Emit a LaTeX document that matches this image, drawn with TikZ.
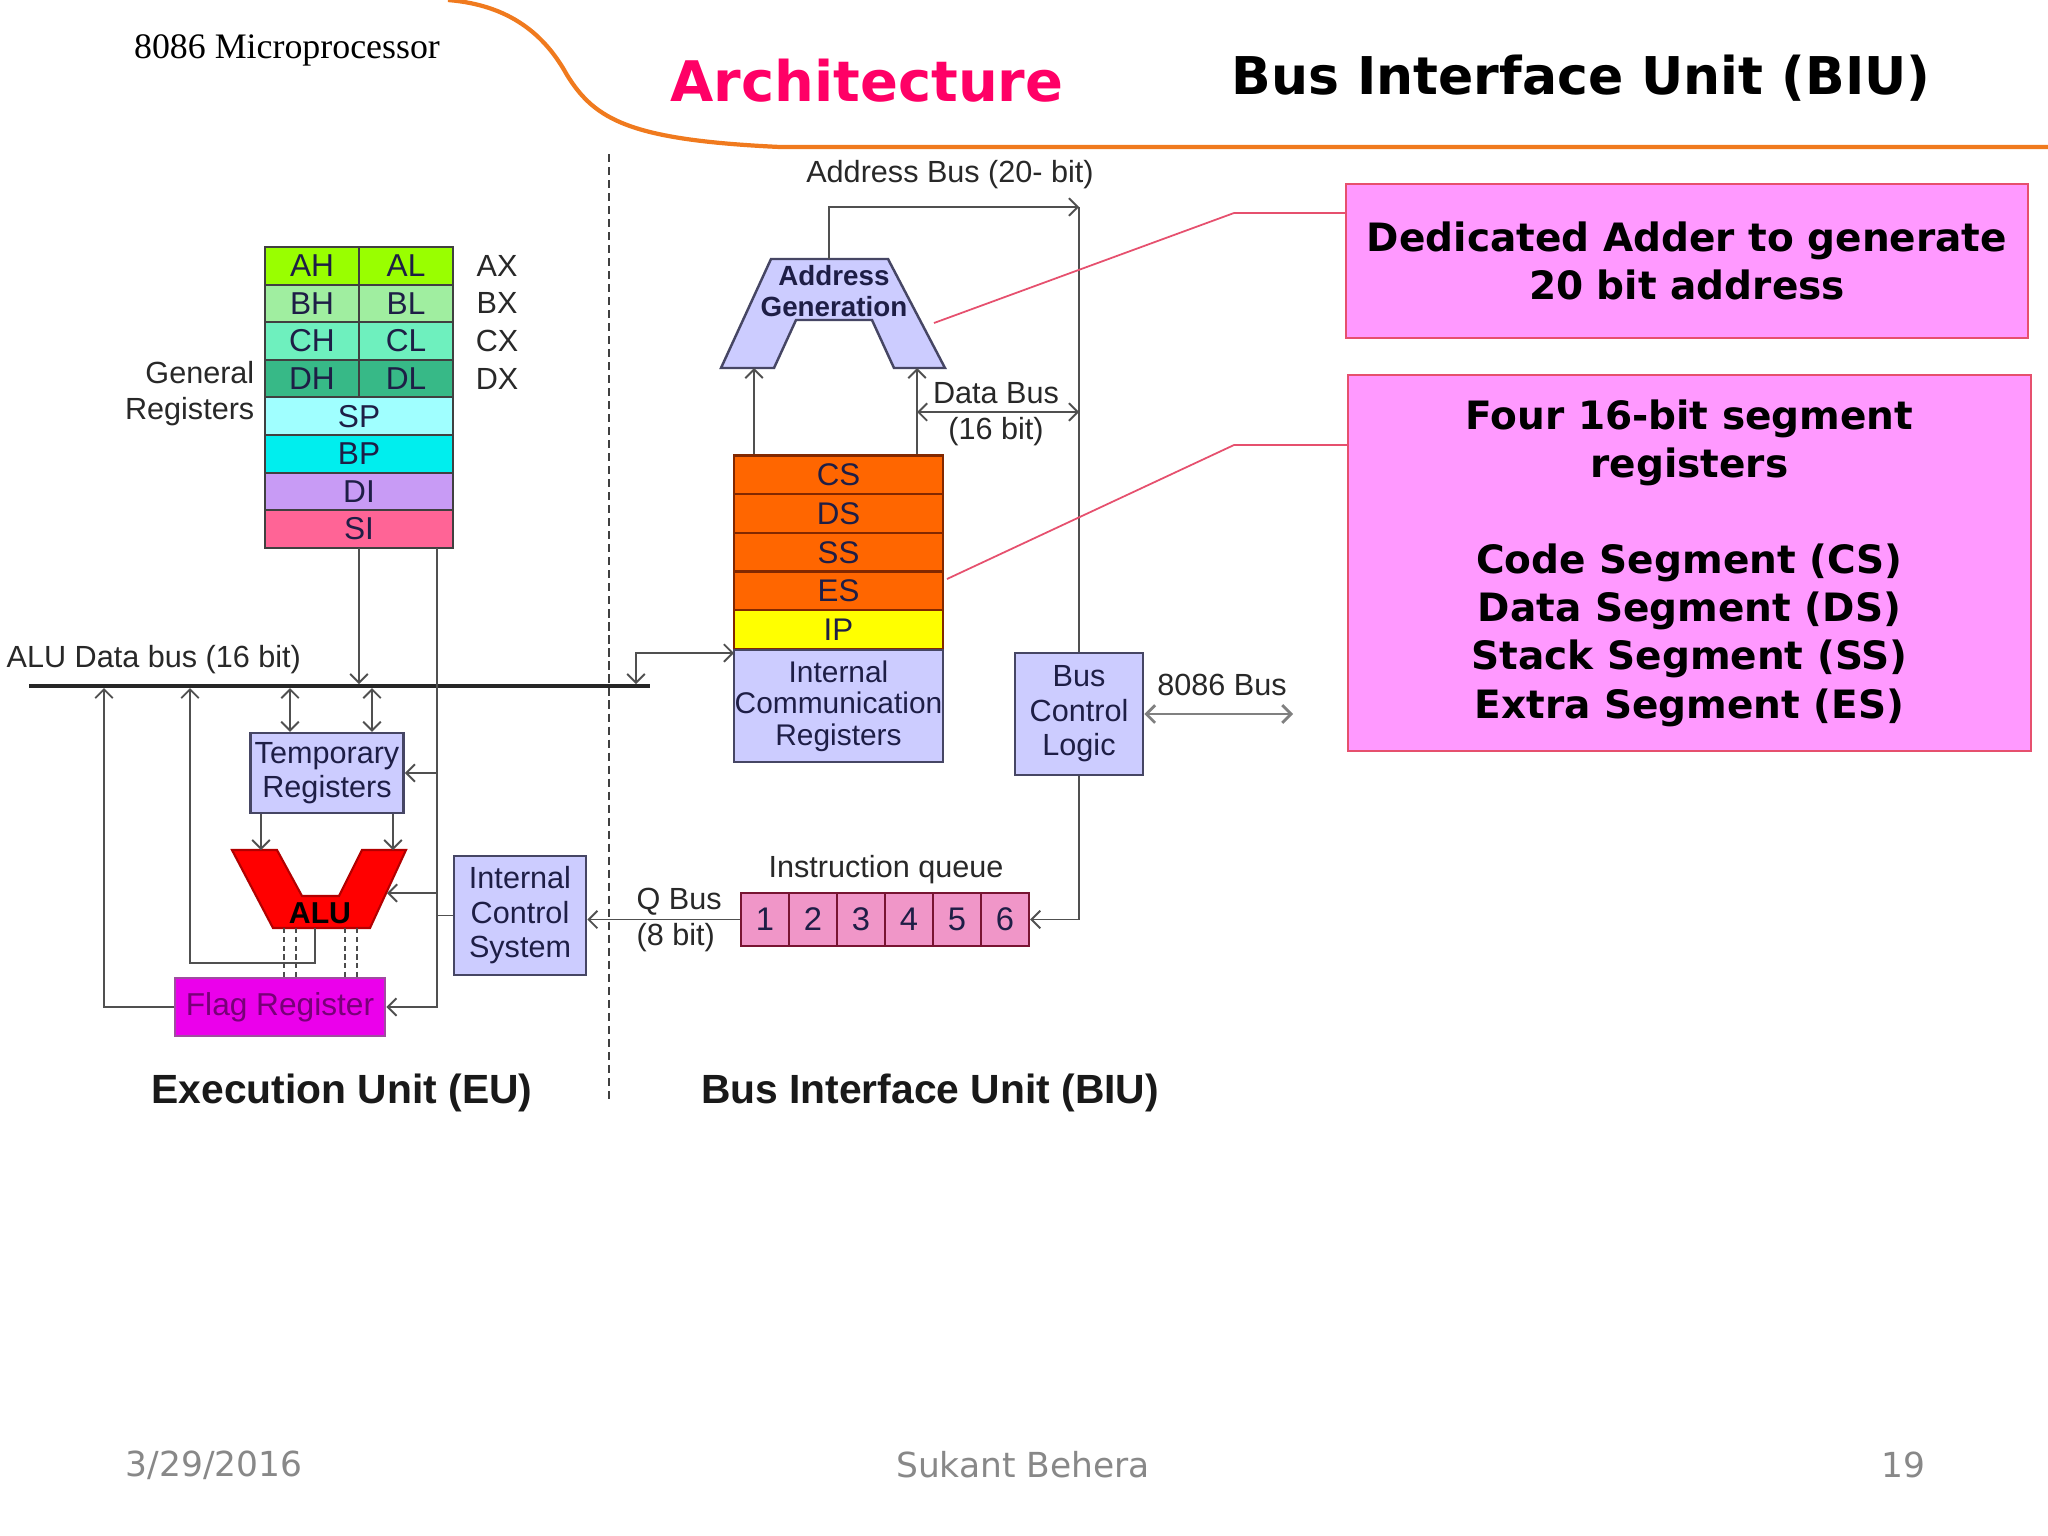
\documentclass[tikz,border=0pt]{standalone}
\usepackage{fontspec}
\setmainfont{Liberation Sans}
\newfontfamily\dv{DejaVu Sans}
\newfontfamily\lser{Liberation Serif}
\usetikzlibrary{arrows.meta}
\definecolor{orng}{RGB}{240,122,30}
\definecolor{archred}{RGB}{255,0,102}
\definecolor{lav}{RGB}{204,204,255}
\definecolor{lavbd}{RGB}{70,70,100}
\definecolor{segor}{RGB}{255,102,0}
\definecolor{segbd}{RGB}{130,40,0}
\definecolor{ipy}{RGB}{255,255,0}
\definecolor{callout}{RGB}{255,153,255}
\definecolor{callred}{RGB}{230,80,110}
\definecolor{qpink}{RGB}{240,150,200}
\definecolor{qbd}{RGB}{120,20,50}
\definecolor{flagm}{RGB}{235,0,235}
\definecolor{flagt}{RGB}{120,0,120}
\definecolor{wirec}{RGB}{80,80,80}
\definecolor{txt}{RGB}{40,40,40}
\definecolor{boxtxt}{RGB}{30,30,70}
\definecolor{regA}{RGB}{153,255,0}
\definecolor{regB}{RGB}{160,238,160}
\definecolor{regC}{RGB}{110,240,190}
\definecolor{regD}{RGB}{55,185,135}
\definecolor{regSP}{RGB}{160,255,255}
\definecolor{regBP}{RGB}{0,238,238}
\definecolor{regDI}{RGB}{200,155,245}
\definecolor{regSI}{RGB}{255,100,150}
\definecolor{foot}{RGB}{136,136,136}
\begin{document}
\begin{tikzpicture}[x=0.01cm,y=-0.01cm,
  lbl/.style={font=\fontsize{8.7}{10.2}\selectfont, text=txt, align=center, inner sep=0pt},
  regcell/.style={draw=black!75, line width=0.6pt, inner sep=0pt, font=\fontsize{9}{9.5}\selectfont, text=boxtxt, minimum height=0.376cm},
  half/.style={regcell, minimum width=0.94cm},
  full/.style={regcell, minimum width=1.88cm},
  lavbox/.style={draw=lavbd, fill=lav, line width=0.7pt, inner sep=0pt, align=center, text=boxtxt, font=\fontsize{8.7}{9.8}\selectfont},
  segcell/.style={draw=segbd, fill=segor, line width=0.7pt, inner sep=0pt, minimum width=2.09cm, minimum height=0.387cm, text=boxtxt, font=\fontsize{8.9}{9.8}\selectfont},
  qcell/.style={draw=qbd, fill=qpink, line width=0.6pt, inner sep=0pt, minimum width=0.48cm, minimum height=0.53cm, text=boxtxt, font=\fontsize{9.3}{10}\selectfont},
  wire/.style={draw=wirec, line width=0.55pt},
  tip/.style={-{Straight Barb[length=2.5pt,width=5pt]}},
  tips/.style={{Straight Barb[length=2.5pt,width=5pt]}-{Straight Barb[length=2.5pt,width=5pt]}},
  callbox/.style={draw=callred, fill=callout, line width=0.5pt, inner sep=0pt, align=center, font=\dv\bfseries\fontsize{11.1}{13.7}\selectfont},
  dotw/.style={draw=black!70, line width=0.45pt, dash pattern=on 1.5pt off 1pt}
]
\useasboundingbox (0,0) rectangle (2048,1536);
\fill[white] (0,0) rectangle (2048,1536);

% header
\draw[orng, line width=1.2pt] (448,0) .. controls (510,5) and (545,35) .. (567,75) .. controls (595,120) and (630,140) .. (780,147) -- (2048,147);
\node[inner sep=0pt, font=\lser\fontsize{10.2}{12}\selectfont] (hdr) at (287,50) {8086 Microprocessor};
\node[inner sep=0pt, text=archred, font=\dv\bfseries\fontsize{15.9}{18}\selectfont] (arch) at (867,81) {Architecture};
\node[inner sep=0pt, font=\dv\bfseries\fontsize{14.8}{17}\selectfont] (ttl) at (1581,78) {Bus Interface Unit (BIU)};

% divider
\draw[black!75, line width=0.6pt, dash pattern=on 2.3pt off 1.4pt] (609,154) -- (609,1103);

% general registers
\node[half, fill=regA] (AH) at (312,265.8) {AH};
\node[half, fill=regA] (AL) at (406,265.8) {AL};
\node[half, fill=regB] (BH) at (312,303.4) {BH};
\node[half, fill=regB] (BL) at (406,303.4) {BL};
\node[half, fill=regC] (CH) at (312,341) {CH};
\node[half, fill=regC] (CL) at (406,341) {CL};
\node[half, fill=regD] (DH) at (312,378.6) {DH};
\node[half, fill=regD] (DL) at (406,378.6) {DL};
\node[full, fill=regSP] (SP) at (359,416.2) {SP};
\node[full, fill=regBP] (BP) at (359,453.8) {BP};
\node[full, fill=regDI] (DI) at (359,491.4) {DI};
\node[full, fill=regSI] (SI) at (359,529) {SI};
\node[lbl] (AX) at (497,265.8) {AX};
\node[lbl] (BX) at (497,303.4) {BX};
\node[lbl] (CX) at (497,341) {CX};
\node[lbl] (DX) at (497,378.6) {DX};
\node[lbl, anchor=east, align=right] (genreg) at (255,394) {General\\Registers};

% ALU data bus
\coordinate (busL) at (29,686);
\coordinate (busR) at (650,686);
\draw[black!85, line width=1.2pt] (busL) -- (busR);
\node[lbl, anchor=west] (aluBusLbl) at (6,660) {ALU Data bus (16 bit)};

% EU blocks
\node[lavbox, minimum width=1.53cm, minimum height=0.80cm] (tmp) at (327,773) {Temporary\\Registers};
\node[lavbox, minimum width=1.32cm, minimum height=1.19cm, font=\fontsize{8.7}{9.8}\selectfont] (ics) at (520,915.5) {Internal\\Control\\System};
\node[draw=flagt!70, fill=flagm, line width=0.7pt, inner sep=0pt, minimum width=2.10cm, minimum height=0.58cm, text=flagt, font=\fontsize{9}{9.8}\selectfont] (flag) at (280,1007) {Flag Register};
\draw[draw=red!70!black, fill=red, line width=0.6pt] (232,850) -- (277,850) -- (302,896) -- (339,896) -- (362,850) -- (406,850) -- (370,928) -- (273,928) -- cycle;
\node[inner sep=0pt, font=\bfseries\fontsize{8.6}{9}\selectfont] (alu) at (320,913) {ALU};
\coordinate (aluR) at (387,893);
\coordinate (aluOut) at (315,928);

% EU wires
\coordinate (regOut) at (359,548);
\coordinate (ctrlTop) at (437,548);
\draw[wire, tip] (regOut) -- (359,684);
\draw[wire, tip] (ctrlTop) |- (flag.east);
\draw[wire, tip] (ctrlTop |- tmp.east) -- (tmp.east);
\draw[wire, tip] (ctrlTop |- aluR) -- (aluR);
\draw[wire] (ics.west) -- (ctrlTop |- ics.west);
\draw[wire, tip] (flag.west) -| (104,688);
\draw[wire, tip] (aluOut) |- (190,963) -- (190,688);
\draw[wire, tips] (290,688) -- (290,0 |- tmp.north);
\draw[wire, tips] (372,688) -- (372,0 |- tmp.north);
\draw[wire, tip] (261,0 |- tmp.south) -- (261,850);
\draw[wire, tip] (393,0 |- tmp.south) -- (393,850);
\draw[dotw] (284,928) -- (284,0 |- flag.north);
\draw[dotw] (296,928) -- (296,0 |- flag.north);
\draw[dotw] (345,928) -- (345,0 |- flag.north);
\draw[dotw] (357,928) -- (357,0 |- flag.north);

% BIU
\draw[draw=lavbd, fill=lav, line width=0.7pt] (771,259) -- (888,259) -- (945,368) -- (894,368) -- (872,320) -- (796,320) -- (774,368) -- (721,368) -- cycle;
\node[inner sep=0pt, align=center, text=boxtxt, font=\bfseries\fontsize{7.9}{8.8}\selectfont] (agen) at (834,291) {Address\\Generation};
\node[segcell] (CS) at (838.5,475) {CS};
\node[segcell] (DS) at (838.5,513.5) {DS};
\node[segcell] (SS) at (838.5,552.5) {SS};
\node[segcell] (ES) at (838.5,591) {ES};
\node[segcell, fill=ipy] (IP) at (838.5,629.5) {IP};
\node[lavbox, minimum width=2.09cm, minimum height=1.12cm, font=\fontsize{8.5}{9}\selectfont] (icr) at (838.5,706) {Internal\\Communication\\Registers};
\node[lavbox, minimum width=1.28cm, minimum height=1.22cm] (bcl) at (1079,714) {Bus\\Control\\Logic};
\node[qcell] (q1) at (765,919.5) {1};
\node[qcell] (q2) at (813,919.5) {2};
\node[qcell] (q3) at (861,919.5) {3};
\node[qcell] (q4) at (909,919.5) {4};
\node[qcell] (q5) at (957,919.5) {5};
\node[qcell] (q6) at (1005,919.5) {6};

\node[lbl] (abusLbl) at (950,175) {Address Bus (20- bit)};
\node[lbl] (dbusLbl) at (996,414) {Data Bus\\(16 bit)};
\node[lbl] (iqLbl) at (886,870) {Instruction queue};
\node[lbl, anchor=west, align=left] (qbusLbl) at (636,920) {Q Bus\\(8 bit)};
\node[lbl] (extLbl) at (1222,685) {8086 Bus};

% BIU wires
\coordinate (agTop) at (829,259);
\coordinate (abCorner) at (1079,207);
\draw[wire, tip] (agTop) |- (abCorner);
\draw[wire] (abCorner) -- (bcl.north);
\draw[wire, tip] (754,0 |- CS.north) -- (754,368);
\draw[wire, tip] (917,0 |- CS.north) -- (917,368);
\draw[wire, tips] (917,412) -- (1079,412);
\draw[wire, tips] (636,684) |- (734,653);
\draw[wire, tip] (bcl.south) |- (q6.east);
\draw[wire, tip] (q1.west) -- (ics.east |- q1.west);
\coordinate (extEnd) at (1293,714);
\draw[draw=black!50, line width=0.8pt, tips] (bcl.east) -- (extEnd);

% unit labels
\node[inner sep=0pt, text=black!90, font=\bfseries\fontsize{11.6}{13}\selectfont] (euLbl) at (342,1093) {Execution Unit (EU)};
\node[inner sep=0pt, text=black!90, font=\bfseries\fontsize{11.6}{13}\selectfont] (biuLbl) at (930,1093) {Bus Interface Unit (BIU)};

% callouts
\node[callbox, minimum width=6.82cm, minimum height=1.54cm] (box1) at (1687,261) {Dedicated Adder to generate\\20 bit address};
\node[callbox, minimum width=6.83cm, minimum height=3.76cm] (box2) at (1689.5,563) {Four 16-bit segment\\registers\\[13.7pt]Code Segment (CS)\\Data Segment (DS)\\Stack Segment (SS)\\Extra Segment (ES)};
\draw[callred, line width=0.5pt] (box1.west |- 0,213) -- (1234,213) -- (934,323);
\draw[callred, line width=0.5pt] (box2.west |- 0,445) -- (1234,445) -- (947,579);

% footer
\node[inner sep=0pt, text=foot, font=\dv\fontsize{9.8}{11}\selectfont] (date) at (214,1465) {3/29/2016};
\node[inner sep=0pt, text=foot, font=\dv\fontsize{9.8}{11}\selectfont] (author) at (1023,1465) {Sukant Behera};
\node[inner sep=0pt, text=foot, font=\dv\fontsize{9.8}{11}\selectfont] (page) at (1903,1465) {19};
\end{tikzpicture}
\end{document}
